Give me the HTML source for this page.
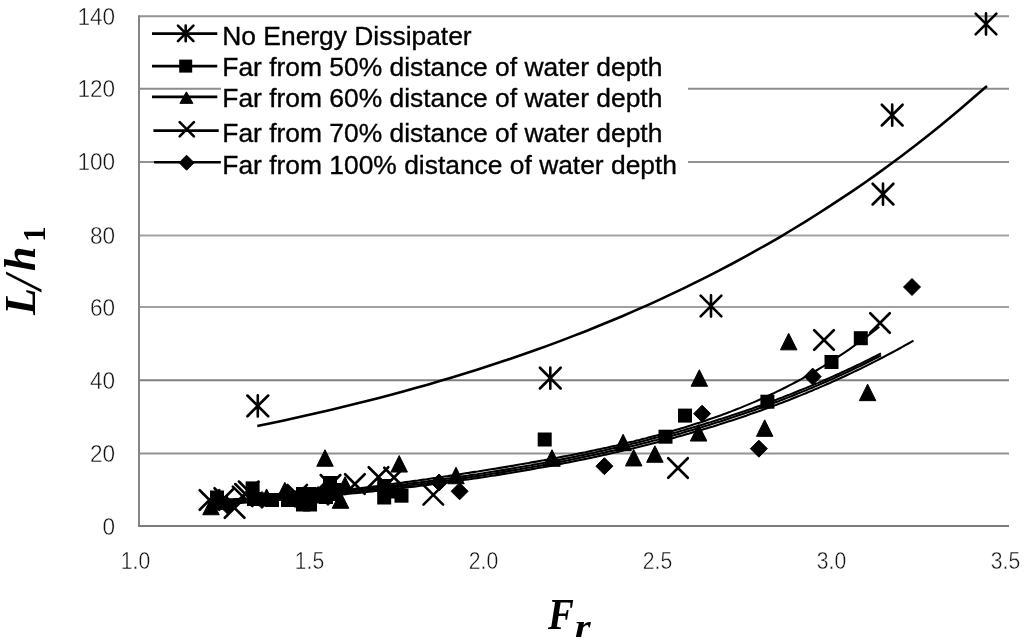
<!DOCTYPE html>
<html><head><meta charset="utf-8"><style>
html,body{margin:0;padding:0;background:#fff;width:1024px;height:641px;overflow:hidden}
svg{display:block}
.g{stroke-width:2;fill:none}
.t{font-family:"Liberation Sans",sans-serif;font-size:24.6px;fill:#111;stroke:#fff;stroke-width:0.45px}
.ax{font-family:"Liberation Serif",serif;font-size:44px;font-weight:bold;font-style:italic;fill:#000}
.sub{font-size:31px}
.sl{font-family:"Liberation Serif",serif;font-size:52px;font-style:italic;fill:#000}
.one{font-family:"Liberation Serif",serif;font-size:31px;font-weight:bold;fill:#000}
.c{stroke:#000;stroke-width:2.6;fill:none;stroke-linejoin:round}
.c2{stroke:#000;stroke-width:2.1;fill:none;stroke-linejoin:round}
.m{stroke:#000;stroke-width:2.6;fill:none;stroke-linecap:round}
.tf{fill:#000;stroke:#000;stroke-width:1;stroke-linejoin:round}
.lg{stroke:#000;stroke-width:2.6}
.lgt{font-family:"Liberation Sans",sans-serif;font-size:26.4px;fill:#000;stroke:#000;stroke-width:0.35}
</style></head><body>
<svg width="1024" height="641" viewBox="0 0 1024 641">
<line x1="139.0" y1="453.50" x2="1009.0" y2="453.50" class="g" stroke="#939393"/>
<line x1="139.0" y1="380.25" x2="1009.0" y2="380.25" class="g" stroke="#808080"/>
<line x1="139.0" y1="307.10" x2="1009.0" y2="307.10" class="g" stroke="#a0a0a0"/>
<line x1="139.0" y1="235.40" x2="1009.0" y2="235.40" class="g" stroke="#a2a2a2"/>
<line x1="139.0" y1="161.90" x2="1009.0" y2="161.90" class="g" stroke="#929292"/>
<line x1="139.0" y1="88.75" x2="1009.0" y2="88.75" class="g" stroke="#8c8c8c"/>
<line x1="139.0" y1="16.25" x2="1009.0" y2="16.25" class="g" stroke="#939393"/>
<line x1="139.0" y1="15.2" x2="139.0" y2="527.1" class="g" stroke="#858585"/>
<line x1="138.0" y1="526.1" x2="1009.0" y2="526.1" class="g" stroke="#7c7c7c"/>
<rect x="221" y="20" width="467" height="160" fill="#fff"/>
<text transform="translate(115.2,534.5) scale(0.92,1)" class="t" text-anchor="end">0</text>
<text transform="translate(115.2,461.9) scale(0.92,1)" class="t" text-anchor="end">20</text>
<text transform="translate(115.2,388.6) scale(0.92,1)" class="t" text-anchor="end">40</text>
<text transform="translate(115.2,315.5) scale(0.92,1)" class="t" text-anchor="end">60</text>
<text transform="translate(115.2,243.8) scale(0.92,1)" class="t" text-anchor="end">80</text>
<text transform="translate(115.2,170.3) scale(0.92,1)" class="t" text-anchor="end">100</text>
<text transform="translate(115.2,97.2) scale(0.92,1)" class="t" text-anchor="end">120</text>
<text transform="translate(115.2,24.6) scale(0.92,1)" class="t" text-anchor="end">140</text>
<text transform="translate(135.5,568.8) scale(0.86,1)" class="t" text-anchor="middle">1.0</text>
<text transform="translate(309.5,568.8) scale(0.86,1)" class="t" text-anchor="middle">1.5</text>
<text transform="translate(483.5,568.8) scale(0.86,1)" class="t" text-anchor="middle">2.0</text>
<text transform="translate(657.5,568.8) scale(0.86,1)" class="t" text-anchor="middle">2.5</text>
<text transform="translate(831.5,568.8) scale(0.86,1)" class="t" text-anchor="middle">3.0</text>
<text transform="translate(1005.5,568.8) scale(0.86,1)" class="t" text-anchor="middle">3.5</text>
<g transform="translate(35,315) rotate(-90)"><text class="ax" x="0" y="0">L</text><text class="sl" x="25" y="6">/</text><text class="ax" x="44" y="0">h</text><text class="one" x="73" y="10">1</text></g>
<text transform="translate(548,629) scale(0.88,1)" class="ax">F</text><text transform="translate(575,636.5) scale(1.3,1)" class="ax sub">r</text>
<polyline class="c" points="257.3,426.0 269.5,423.5 281.6,420.9 293.8,418.3 305.9,415.6 318.1,412.8 330.3,410.0 342.4,407.1 354.6,404.1 366.8,401.1 378.9,398.0 391.1,394.8 403.2,391.5 415.4,388.1 427.6,384.7 439.7,381.1 451.9,377.5 464.0,373.8 476.2,370.0 488.4,366.1 500.5,362.1 512.7,358.0 524.9,353.8 537.0,349.5 549.2,345.1 561.3,340.6 573.5,335.9 585.7,331.2 597.8,326.3 610.0,321.3 622.2,316.2 634.3,310.9 646.5,305.6 658.6,300.1 670.8,294.4 683.0,288.6 695.1,282.7 707.3,276.6 719.4,270.4 731.6,264.0 743.8,257.4 755.9,250.7 768.1,243.8 780.3,236.8 792.4,229.5 804.6,222.1 816.7,214.5 828.9,206.7 841.1,198.7 853.2,190.6 865.4,182.2 877.5,173.6 889.7,164.8 901.9,155.7 914.0,146.5 926.2,137.0 938.4,127.3 950.5,117.3 962.7,107.1 974.8,96.6 987.0,85.9"/>
<path class="m" d="M257.8,395.29999999999995V416.5M247.412,395.512L268.188,416.28799999999995M247.412,416.28799999999995L268.188,395.512"/>
<path class="m" d="M550.3,367.5V388.70000000000005M539.9119999999999,367.71200000000005L560.688,388.488M539.9119999999999,388.488L560.688,367.71200000000005"/>
<path class="m" d="M711,295.4V316.6M700.612,295.612L721.388,316.388M700.612,316.388L721.388,295.612"/>
<path class="m" d="M883,183.5V204.7M872.612,183.712L893.388,204.488M872.612,204.488L893.388,183.712"/>
<path class="m" d="M892.2,104.5V125.69999999999999M881.812,104.71199999999999L902.5880000000001,125.488M881.812,125.488L902.5880000000001,104.71199999999999"/>
<path class="m" d="M986,13.4V34.6M975.612,13.612L996.388,34.388M975.612,34.388L996.388,13.612"/>
<polyline class="c2" points="208.0,499.7 211.0,499.7 214.0,499.7 217.0,499.6 220.0,499.6 223.0,499.5 226.0,499.4 229.0,499.3 232.0,499.2 235.0,499.1 238.0,499.0 241.0,498.9 244.0,498.8 247.0,498.6 250.0,498.5 253.0,498.3 255.9,498.1 258.9,498.0 261.9,497.8 264.9,497.6 267.9,497.4 270.9,497.2 273.9,496.9 276.9,496.7 279.9,496.5 282.9,496.2 285.9,496.0 288.9,495.7 291.9,495.5 294.9,495.2 297.9,494.9 300.9,494.7 303.9,494.4 306.9,494.1 309.9,493.8 312.9,493.5 315.9,493.2 318.9,492.9 321.9,492.6 324.9,492.2 327.9,491.9 330.9,491.6 333.9,491.3 336.9,490.9 339.9,490.6 342.9,490.2 345.9,489.9 348.9,489.5 351.9,489.2 354.8,488.8 357.8,488.4 360.8,488.1 363.8,487.7 366.8,487.3 369.8,486.9 372.8,486.6 375.8,486.2 378.8,485.8 381.8,485.4 384.8,485.0 387.8,484.6 390.8,484.2 393.8,483.8 396.8,483.4 399.8,483.0 402.8,482.6 405.8,482.1 408.8,481.7 411.8,481.3 414.8,480.9 417.8,480.5 420.8,480.0 423.8,479.6 426.8,479.2 429.8,478.7 432.8,478.3 435.8,477.9 438.8,477.4 441.8,477.0 444.8,476.5 447.8,476.1 450.7,475.6 453.7,475.2 456.7,474.7 459.7,474.3 462.7,473.8 465.7,473.3 468.7,472.9 471.7,472.4 474.7,471.9 477.7,471.5 480.7,471.0 483.7,470.5 486.7,470.0 489.7,469.5 492.7,469.0 495.7,468.6 498.7,468.1 501.7,467.6 504.7,467.1 507.7,466.6 510.7,466.1 513.7,465.6 516.7,465.0 519.7,464.5 522.7,464.0 525.7,463.5 528.7,463.0 531.7,462.4 534.7,461.9 537.7,461.4 540.7,460.8 543.6,460.3 546.6,459.7 549.6,459.2 552.6,458.6 555.6,458.1 558.6,457.5 561.6,456.9 564.6,456.3 567.6,455.8 570.6,455.2 573.6,454.6 576.6,454.0 579.6,453.4 582.6,452.8 585.6,452.2 588.6,451.5 591.6,450.9 594.6,450.3 597.6,449.6 600.6,449.0 603.6,448.3 606.6,447.7 609.6,447.0 612.6,446.3 615.6,445.7 618.6,445.0 621.6,444.3 624.6,443.6 627.6,442.8 630.6,442.1 633.6,441.4 636.6,440.6 639.5,439.9 642.5,439.1 645.5,438.4 648.5,437.6 651.5,436.8 654.5,436.0 657.5,435.2 660.5,434.4 663.5,433.6 666.5,432.7 669.5,431.9 672.5,431.0 675.5,430.1 678.5,429.2 681.5,428.3 684.5,427.4 687.5,426.5 690.5,425.6 693.5,424.6 696.5,423.6 699.5,422.7 702.5,421.7 705.5,420.7 708.5,419.6 711.5,418.6 714.5,417.6 717.5,416.5 720.5,415.4 723.5,414.3 726.5,413.2 729.5,412.1 732.5,410.9 735.4,409.7 738.4,408.6 741.4,407.4 744.4,406.1 747.4,404.9 750.4,403.6 753.4,402.4 756.4,401.1 759.4,399.8 762.4,398.4 765.4,397.1 768.4,395.7 771.4,394.3 774.4,392.9 777.4,391.4 780.4,390.0 783.4,388.5 786.4,387.0 789.4,385.4 792.4,383.9 795.4,382.3 798.4,380.7 801.4,379.1 804.4,377.4 807.4,375.7 810.4,374.0 813.4,372.3 816.4,370.5 819.4,368.7 822.4,366.9 825.4,365.1 828.4,363.2 831.3,361.3 834.3,359.4 837.3,357.4 840.3,355.4 843.3,353.4 846.3,351.4 849.3,349.3 852.3,347.2 855.3,345.0 858.3,342.9 861.3,340.7 864.3,338.4 867.3,336.1 870.3,333.8 873.3,331.5 876.3,329.1 879.3,326.7"/>
<polyline class="c2" points="208.0,502.8 211.0,502.6 214.0,502.4 217.0,502.1 220.0,501.9 223.0,501.7 225.9,501.5 228.9,501.3 231.9,501.1 234.9,500.8 237.9,500.6 240.9,500.4 243.9,500.1 246.9,499.9 249.9,499.7 252.9,499.4 255.9,499.2 258.8,499.0 261.8,498.7 264.8,498.5 267.8,498.2 270.8,498.0 273.8,497.7 276.8,497.5 279.8,497.2 282.8,497.0 285.8,496.7 288.8,496.5 291.8,496.2 294.7,495.9 297.7,495.7 300.7,495.4 303.7,495.1 306.7,494.8 309.7,494.5 312.7,494.3 315.7,494.0 318.7,493.7 321.7,493.4 324.7,493.1 327.6,492.8 330.6,492.5 333.6,492.2 336.6,491.9 339.6,491.6 342.6,491.3 345.6,491.0 348.6,490.7 351.6,490.4 354.6,490.0 357.6,489.7 360.5,489.4 363.5,489.1 366.5,488.7 369.5,488.4 372.5,488.1 375.5,487.7 378.5,487.4 381.5,487.0 384.5,486.7 387.5,486.3 390.5,486.0 393.4,485.6 396.4,485.3 399.4,484.9 402.4,484.5 405.4,484.2 408.4,483.8 411.4,483.4 414.4,483.0 417.4,482.6 420.4,482.3 423.4,481.9 426.4,481.5 429.3,481.1 432.3,480.7 435.3,480.3 438.3,479.9 441.3,479.4 444.3,479.0 447.3,478.6 450.3,478.2 453.3,477.8 456.3,477.3 459.3,476.9 462.2,476.4 465.2,476.0 468.2,475.6 471.2,475.1 474.2,474.6 477.2,474.2 480.2,473.7 483.2,473.3 486.2,472.8 489.2,472.3 492.2,471.8 495.1,471.3 498.1,470.9 501.1,470.4 504.1,469.9 507.1,469.4 510.1,468.9 513.1,468.3 516.1,467.8 519.1,467.3 522.1,466.8 525.1,466.2 528.0,465.7 531.0,465.2 534.0,464.6 537.0,464.1 540.0,463.5 543.0,463.0 546.0,462.4 549.0,461.8 552.0,461.3 555.0,460.7 558.0,460.1 561.0,459.5 563.9,458.9 566.9,458.3 569.9,457.7 572.9,457.1 575.9,456.5 578.9,455.8 581.9,455.2 584.9,454.6 587.9,453.9 590.9,453.3 593.9,452.7 596.8,452.0 599.8,451.3 602.8,450.7 605.8,450.0 608.8,449.3 611.8,448.6 614.8,447.9 617.8,447.2 620.8,446.5 623.8,445.8 626.8,445.1 629.7,444.4 632.7,443.6 635.7,442.9 638.7,442.2 641.7,441.4 644.7,440.7 647.7,439.9 650.7,439.1 653.7,438.3 656.7,437.6 659.7,436.8 662.6,436.0 665.6,435.2 668.6,434.3 671.6,433.5 674.6,432.7 677.6,431.9 680.6,431.0 683.6,430.2 686.6,429.3 689.6,428.4 692.6,427.6 695.6,426.7 698.5,425.8 701.5,424.9 704.5,424.0 707.5,423.1 710.5,422.2 713.5,421.2 716.5,420.3 719.5,419.3 722.5,418.4 725.5,417.4 728.5,416.5 731.4,415.5 734.4,414.5 737.4,413.5 740.4,412.5 743.4,411.5 746.4,410.4 749.4,409.4 752.4,408.4 755.4,407.3 758.4,406.2 761.4,405.2 764.3,404.1 767.3,403.0 770.3,401.9 773.3,400.8 776.3,399.7 779.3,398.5 782.3,397.4 785.3,396.2 788.3,395.1 791.3,393.9 794.3,392.7 797.2,391.5 800.2,390.3 803.2,389.1 806.2,387.9 809.2,386.6 812.2,385.4 815.2,384.1 818.2,382.9 821.2,381.6 824.2,380.3 827.2,379.0 830.2,377.7 833.1,376.4 836.1,375.0 839.1,373.7 842.1,372.3 845.1,370.9 848.1,369.5 851.1,368.1 854.1,366.7 857.1,365.3 860.1,363.9 863.1,362.4 866.0,360.9 869.0,359.5 872.0,358.0 875.0,356.5 878.0,354.9 881.0,353.4"/>
<polyline class="c2" points="208.0,504.0 211.0,503.8 214.0,503.6 217.0,503.4 220.0,503.2 223.0,503.0 225.9,502.8 228.9,502.6 231.9,502.4 234.9,502.2 237.9,501.9 240.9,501.7 243.9,501.5 246.9,501.3 249.9,501.0 252.9,500.8 255.9,500.6 258.8,500.4 261.8,500.1 264.8,499.9 267.8,499.6 270.8,499.4 273.8,499.2 276.8,498.9 279.8,498.7 282.8,498.4 285.8,498.2 288.8,497.9 291.8,497.7 294.7,497.4 297.7,497.1 300.7,496.9 303.7,496.6 306.7,496.3 309.7,496.1 312.7,495.8 315.7,495.5 318.7,495.2 321.7,495.0 324.7,494.7 327.6,494.4 330.6,494.1 333.6,493.8 336.6,493.5 339.6,493.2 342.6,492.9 345.6,492.6 348.6,492.3 351.6,492.0 354.6,491.7 357.6,491.4 360.5,491.0 363.5,490.7 366.5,490.4 369.5,490.1 372.5,489.8 375.5,489.4 378.5,489.1 381.5,488.7 384.5,488.4 387.5,488.1 390.5,487.7 393.4,487.4 396.4,487.0 399.4,486.7 402.4,486.3 405.4,485.9 408.4,485.6 411.4,485.2 414.4,484.8 417.4,484.4 420.4,484.1 423.4,483.7 426.4,483.3 429.3,482.9 432.3,482.5 435.3,482.1 438.3,481.7 441.3,481.3 444.3,480.9 447.3,480.5 450.3,480.1 453.3,479.6 456.3,479.2 459.3,478.8 462.2,478.4 465.2,477.9 468.2,477.5 471.2,477.0 474.2,476.6 477.2,476.1 480.2,475.7 483.2,475.2 486.2,474.8 489.2,474.3 492.2,473.8 495.1,473.3 498.1,472.9 501.1,472.4 504.1,471.9 507.1,471.4 510.1,470.9 513.1,470.4 516.1,469.9 519.1,469.4 522.1,468.8 525.1,468.3 528.0,467.8 531.0,467.3 534.0,466.7 537.0,466.2 540.0,465.6 543.0,465.1 546.0,464.5 549.0,464.0 552.0,463.4 555.0,462.8 558.0,462.2 561.0,461.6 563.9,461.1 566.9,460.5 569.9,459.9 572.9,459.3 575.9,458.6 578.9,458.0 581.9,457.4 584.9,456.8 587.9,456.1 590.9,455.5 593.9,454.9 596.8,454.2 599.8,453.6 602.8,452.9 605.8,452.2 608.8,451.5 611.8,450.9 614.8,450.2 617.8,449.5 620.8,448.8 623.8,448.1 626.8,447.4 629.7,446.6 632.7,445.9 635.7,445.2 638.7,444.4 641.7,443.7 644.7,442.9 647.7,442.2 650.7,441.4 653.7,440.6 656.7,439.9 659.7,439.1 662.6,438.3 665.6,437.5 668.6,436.7 671.6,435.9 674.6,435.0 677.6,434.2 680.6,433.4 683.6,432.5 686.6,431.6 689.6,430.8 692.6,429.9 695.6,429.0 698.5,428.1 701.5,427.3 704.5,426.3 707.5,425.4 710.5,424.5 713.5,423.6 716.5,422.6 719.5,421.7 722.5,420.7 725.5,419.8 728.5,418.8 731.4,417.8 734.4,416.8 737.4,415.8 740.4,414.8 743.4,413.8 746.4,412.8 749.4,411.8 752.4,410.7 755.4,409.7 758.4,408.6 761.4,407.5 764.3,406.4 767.3,405.3 770.3,404.2 773.3,403.1 776.3,402.0 779.3,400.9 782.3,399.7 785.3,398.6 788.3,397.4 791.3,396.2 794.3,395.0 797.2,393.8 800.2,392.6 803.2,391.4 806.2,390.2 809.2,388.9 812.2,387.7 815.2,386.4 818.2,385.1 821.2,383.8 824.2,382.5 827.2,381.2 830.2,379.9 833.1,378.6 836.1,377.2 839.1,375.8 842.1,374.5 845.1,373.1 848.1,371.7 851.1,370.3 854.1,368.8 857.1,367.4 860.1,366.0 863.1,364.5 866.0,363.0 869.0,361.5 872.0,360.0 875.0,358.5 878.0,357.0 881.0,355.4"/>
<polyline class="c2" points="208.0,505.2 211.0,505.0 214.0,504.8 217.0,504.6 220.0,504.4 222.9,504.2 225.9,504.0 228.9,503.8 231.9,503.6 234.9,503.4 237.9,503.2 240.9,503.0 243.9,502.8 246.9,502.5 249.9,502.3 252.8,502.1 255.8,501.9 258.8,501.7 261.8,501.4 264.8,501.2 267.8,501.0 270.8,500.7 273.8,500.5 276.8,500.3 279.7,500.0 282.7,499.8 285.7,499.5 288.7,499.3 291.7,499.0 294.7,498.8 297.7,498.5 300.7,498.3 303.7,498.0 306.7,497.8 309.6,497.5 312.6,497.2 315.6,497.0 318.6,496.7 321.6,496.4 324.6,496.1 327.6,495.9 330.6,495.6 333.6,495.3 336.5,495.0 339.5,494.7 342.5,494.4 345.5,494.1 348.5,493.8 351.5,493.5 354.5,493.2 357.5,492.9 360.5,492.6 363.4,492.3 366.4,492.0 369.4,491.7 372.4,491.4 375.4,491.0 378.4,490.7 381.4,490.4 384.4,490.1 387.4,489.7 390.4,489.4 393.3,489.0 396.3,488.7 399.3,488.4 402.3,488.0 405.3,487.7 408.3,487.3 411.3,486.9 414.3,486.6 417.3,486.2 420.2,485.8 423.2,485.5 426.2,485.1 429.2,484.7 432.2,484.3 435.2,483.9 438.2,483.5 441.2,483.1 444.2,482.7 447.2,482.3 450.1,481.9 453.1,481.5 456.1,481.1 459.1,480.7 462.1,480.3 465.1,479.8 468.1,479.4 471.1,479.0 474.1,478.5 477.0,478.1 480.0,477.6 483.0,477.2 486.0,476.7 489.0,476.3 492.0,475.8 495.0,475.4 498.0,474.9 501.0,474.4 504.0,473.9 506.9,473.4 509.9,473.0 512.9,472.5 515.9,472.0 518.9,471.5 521.9,470.9 524.9,470.4 527.9,469.9 530.9,469.4 533.8,468.9 536.8,468.3 539.8,467.8 542.8,467.3 545.8,466.7 548.8,466.2 551.8,465.6 554.8,465.0 557.8,464.5 560.8,463.9 563.7,463.3 566.7,462.7 569.7,462.1 572.7,461.5 575.7,460.9 578.7,460.3 581.7,459.7 584.7,459.1 587.7,458.5 590.6,457.9 593.6,457.2 596.6,456.6 599.6,455.9 602.6,455.3 605.6,454.6 608.6,454.0 611.6,453.3 614.6,452.6 617.5,451.9 620.5,451.2 623.5,450.5 626.5,449.8 629.5,449.1 632.5,448.4 635.5,447.7 638.5,447.0 641.5,446.2 644.5,445.5 647.4,444.7 650.4,444.0 653.4,443.2 656.4,442.4 659.4,441.7 662.4,440.9 665.4,440.1 668.4,439.3 671.4,438.5 674.3,437.7 677.3,436.8 680.3,436.0 683.3,435.2 686.3,434.3 689.3,433.5 692.3,432.6 695.3,431.7 698.3,430.9 701.3,430.0 704.2,429.1 707.2,428.2 710.2,427.3 713.2,426.4 716.2,425.4 719.2,424.5 722.2,423.5 725.2,422.6 728.2,421.6 731.1,420.7 734.1,419.7 737.1,418.7 740.1,417.7 743.1,416.7 746.1,415.7 749.1,414.6 752.1,413.6 755.1,412.5 758.1,411.5 761.0,410.4 764.0,409.3 767.0,408.3 770.0,407.2 773.0,406.1 776.0,404.9 779.0,403.8 782.0,402.7 785.0,401.5 787.9,400.4 790.9,399.2 793.9,398.0 796.9,396.8 799.9,395.6 802.9,394.4 805.9,393.2 808.9,391.9 811.9,390.7 814.8,389.4 817.8,388.2 820.8,386.9 823.8,385.6 826.8,384.3 829.8,383.0 832.8,381.6 835.8,380.3 838.8,378.9 841.8,377.5 844.7,376.2 847.7,374.8 850.7,373.4 853.7,371.9 856.7,370.5 859.7,369.1 862.7,367.6 865.7,366.1 868.7,364.6 871.6,363.1 874.6,361.6 877.6,360.1 880.6,358.5 883.6,357.0 886.6,355.4 889.6,353.8 892.6,352.2 895.6,350.6 898.6,349.0 901.5,347.3 904.5,345.6 907.5,344.0 910.5,342.3 913.5,340.6"/>
<rect x="537.7" y="432.5" width="14" height="14"/>
<rect x="658.5" y="429.7" width="14" height="14"/>
<rect x="678.0" y="408.6" width="14" height="14"/>
<rect x="760.4" y="394.7" width="14" height="14"/>
<rect x="824.5" y="355.0" width="14" height="14"/>
<rect x="853.8" y="331.2" width="14" height="14"/>
<rect x="377.2" y="479.0" width="14" height="14"/>
<rect x="377.2" y="490.5" width="14" height="14"/>
<rect x="382.5" y="484.5" width="14" height="14"/>
<rect x="394.5" y="488.7" width="14" height="14"/>
<path d="M325,449.75L333.25,466.25L316.75,466.25Z" class="tf"/>
<path d="M399.2,455.55L407.45,472.05L390.95,472.05Z" class="tf"/>
<path d="M456,467.25L464.25,483.75L447.75,483.75Z" class="tf"/>
<path d="M552,449.75L560.25,466.25L543.75,466.25Z" class="tf"/>
<path d="M623.1,434.25L631.35,450.75L614.85,450.75Z" class="tf"/>
<path d="M633.7,449.45L641.95,465.95L625.45,465.95Z" class="tf"/>
<path d="M654.9,445.75L663.15,462.25L646.65,462.25Z" class="tf"/>
<path d="M698.6,424.55L706.85,441.05L690.35,441.05Z" class="tf"/>
<path d="M699.3,369.75L707.55,386.25L691.05,386.25Z" class="tf"/>
<path d="M764.7,419.85L772.95,436.35L756.45,436.35Z" class="tf"/>
<path d="M788.7,333.35L796.95,349.85L780.45,349.85Z" class="tf"/>
<path d="M867.6,384.15L875.85,400.65L859.35,400.65Z" class="tf"/>
<path class="m" d="M870.208,313.208L889.792,332.792M870.208,332.792L889.792,313.208"/>
<path class="m" d="M814.208,330.208L833.792,349.792M814.208,349.792L833.792,330.208"/>
<path class="m" d="M668.208,458.208L687.792,477.792M668.208,477.792L687.792,458.208"/>
<path class="m" d="M423.50800000000004,485.108L443.092,504.69199999999995M423.50800000000004,504.69199999999995L443.092,485.108"/>
<path class="m" d="M368.708,467.208L388.292,486.792M368.708,486.792L388.292,467.208"/>
<path class="m" d="M384.208,467.708L403.792,487.292M384.208,487.292L403.792,467.708"/>
<path class="m" d="M345.108,474.208L364.69199999999995,493.792M345.108,493.792L364.69199999999995,474.208"/>
<path d="M912,278.5L920.5,287L912,295.5L903.5,287Z" class="tf"/>
<path d="M812.7,368.1L821.2,376.6L812.7,385.1L804.2,376.6Z" class="tf"/>
<path d="M758.9,440.2L767.4,448.7L758.9,457.2L750.4,448.7Z" class="tf"/>
<path d="M702.1,405.2L710.6,413.7L702.1,422.2L693.6,413.7Z" class="tf"/>
<path d="M604.4,457.7L612.9,466.2L604.4,474.7L595.9,466.2Z" class="tf"/>
<path d="M459.6,482.8L468.1,491.3L459.6,499.8L451.1,491.3Z" class="tf"/>
<path d="M439.1,474.0L447.6,482.5L439.1,491.0L430.6,482.5Z" class="tf"/>
<path d="M211,498.25L219.25,514.75L202.75,514.75Z" class="tf"/>
<rect x="210.0" y="490.5" width="14" height="14"/>
<rect x="214.0" y="496.0" width="14" height="14"/>
<path d="M228,497.5L236.5,506L228,514.5L219.5,506Z" class="tf"/>
<path class="m" d="M199.708,490.208L219.292,509.792M199.708,509.792L219.292,490.208"/>
<path class="m" d="M214.508,488.208L234.092,507.792M214.508,507.792L234.092,488.208"/>
<path class="m" d="M224.808,498.208L244.392,517.792M224.808,517.792L244.392,498.208"/>
<path class="m" d="M232.808,486.608L252.392,506.19199999999995M232.808,506.19199999999995L252.392,486.608"/>
<path class="m" d="M235.308,484.00800000000004L254.892,503.592M235.308,503.592L254.892,484.00800000000004"/>
<path class="m" d="M238.908,481.50800000000004L258.49199999999996,501.092M238.908,501.092L258.49199999999996,481.50800000000004"/>
<rect x="245.6" y="481.4" width="14" height="14"/>
<rect x="247.0" y="492.0" width="14" height="14"/>
<path d="M266.6,488.95L274.85,505.45L258.35,505.45Z" class="tf"/>
<rect x="265.0" y="493.0" width="14" height="14"/>
<path d="M262,491.5L270.5,500L262,508.5L253.5,500Z" class="tf"/>
<path d="M284.8,482.35L293.05,498.85L276.55,498.85Z" class="tf"/>
<rect x="281.0" y="493.0" width="14" height="14"/>
<path d="M295,490.5L303.5,499L295,507.5L286.5,499Z" class="tf"/>
<rect x="296.0" y="487.0" width="14" height="14"/>
<rect x="303.0" y="497.5" width="14" height="14"/>
<path class="m" d="M287.408,484.908L306.99199999999996,504.49199999999996M287.408,504.49199999999996L306.99199999999996,484.908"/>
<path class="m" d="M320.708,475.00800000000004L340.292,494.592M320.708,494.592L340.292,475.00800000000004"/>
<path d="M328,488.5L336.5,497L328,505.5L319.5,497Z" class="tf"/>
<rect x="329.0" y="487.0" width="14" height="14"/>
<path d="M340.5,491.75L348.75,508.25L332.25,508.25Z" class="tf"/>
<path d="M318,486.5L326.5,495L318,503.5L309.5,495Z" class="tf"/>
<rect x="327.0" y="483.0" width="14" height="14"/>
<path d="M324,482.5L332.5,491L324,499.5L315.5,491Z" class="tf"/>
<path d="M288,485.5L296.5,494L288,502.5L279.5,494Z" class="tf"/>
<path d="M345,476.75L353.25,493.25L336.75,493.25Z" class="tf"/>
<rect x="296.0" y="497.5" width="14" height="14"/>
<rect x="302.5" y="487.0" width="14" height="14"/>
<rect x="323.0" y="476.0" width="14" height="14"/>
<rect x="319.0" y="490.0" width="14" height="14"/>
<line x1="152" y1="33.6" x2="217.3" y2="33.6" class="lg"/>
<line x1="152" y1="66.1" x2="217.3" y2="66.1" class="lg"/>
<line x1="152" y1="96.9" x2="217.3" y2="96.9" class="lg"/>
<line x1="153.4" y1="130.6" x2="218.7" y2="130.6" class="lg"/>
<line x1="154.1" y1="162.3" x2="220.8" y2="162.3" class="lg"/>
<path class="m" d="M185.7,25.5V41.3M177.958,25.657999999999998L193.44199999999998,41.141999999999996M177.958,41.141999999999996L193.44199999999998,25.657999999999998"/>
<rect x="179.2" y="59.599999999999994" width="13" height="13"/>
<path d="M186.4,91.85L192.9,103.35L179.9,103.35Z" class="tf"/>
<path class="m" d="M179.67200000000003,122.07199999999999L193.928,136.32799999999997M179.67200000000003,136.32799999999997L193.928,122.07199999999999"/>
<path d="M186.6,155.2L194.1,162.7L186.6,170.2L179.1,162.7Z" class="tf"/>
<text x="222.3" y="44.6" class="lgt">No Energy Dissipater</text>
<text x="222.3" y="76.3" class="lgt">Far from 50% distance of water depth</text>
<text x="222.3" y="107.1" class="lgt">Far from 60% distance of water depth</text>
<text x="222.3" y="142.4" class="lgt">Far from 70% distance of water depth</text>
<text x="222.3" y="174.1" class="lgt">Far from 100% distance of water depth</text>
</svg>
</body></html>
